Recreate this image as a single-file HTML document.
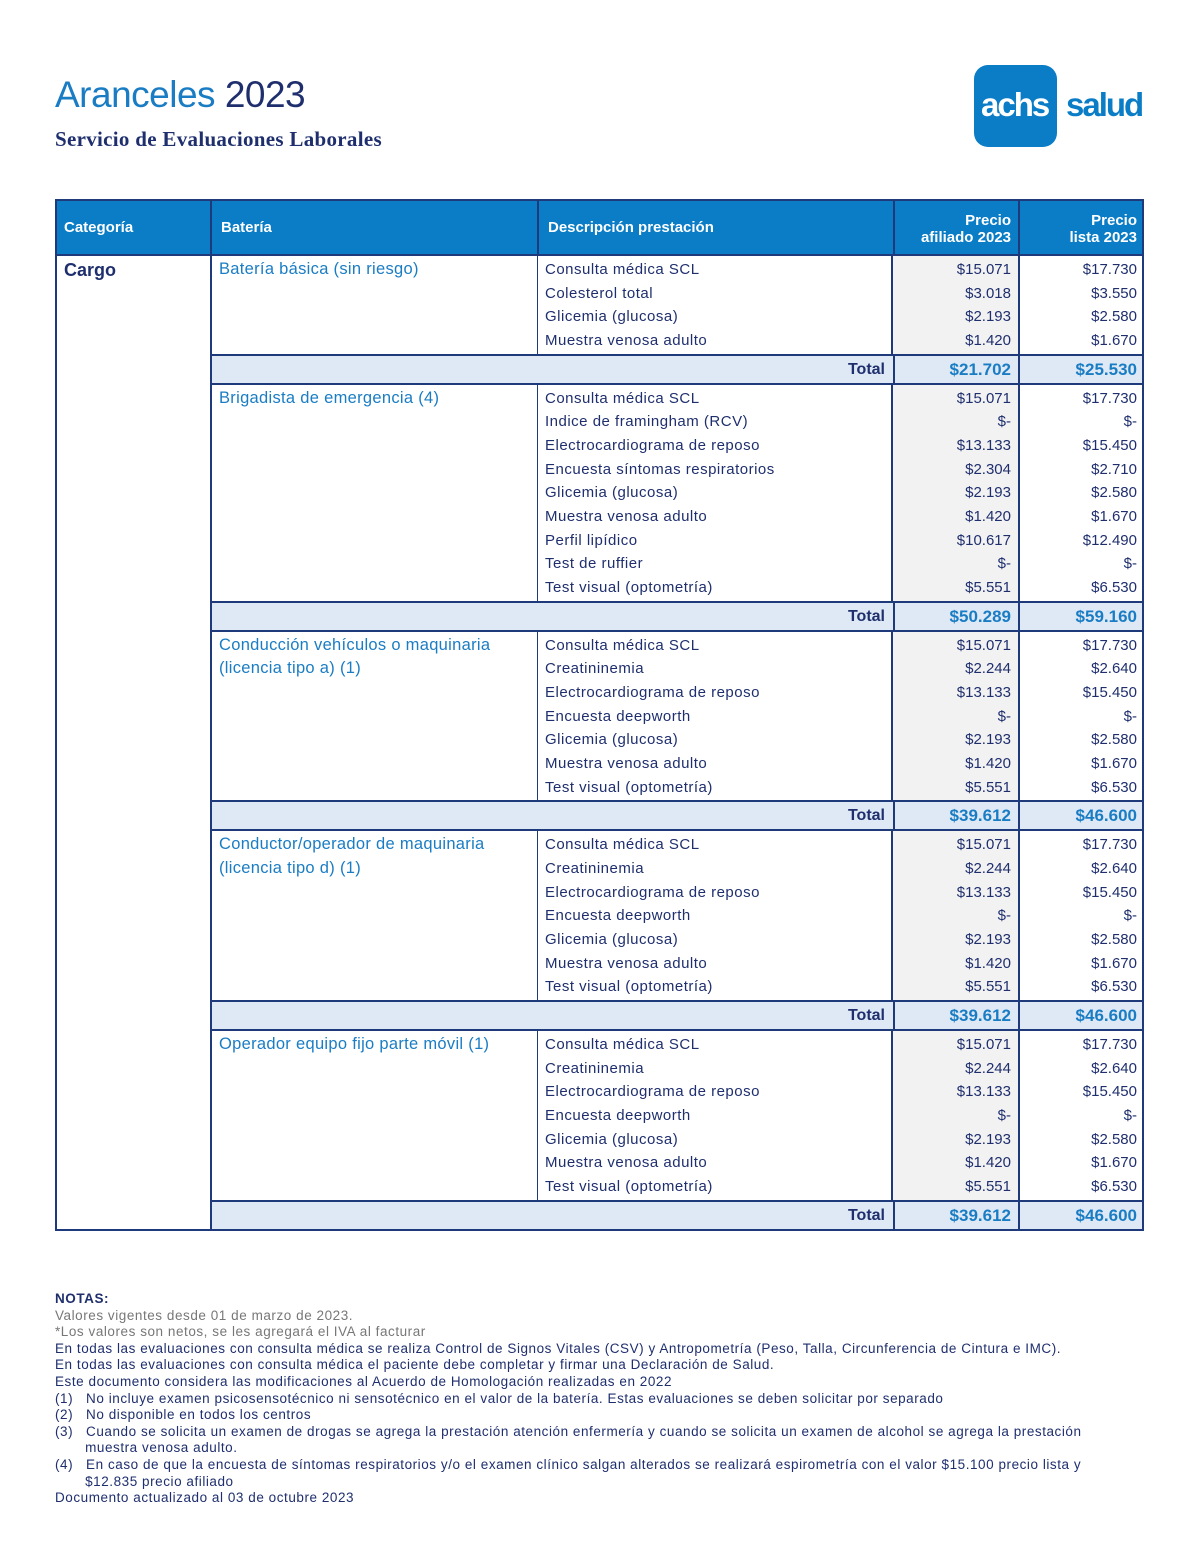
<!DOCTYPE html>
<html><head><meta charset="utf-8">
<style>
body{margin:0;background:#fff;}
#page{position:relative;width:1200px;height:1553px;overflow:hidden;font-family:"Liberation Sans",sans-serif;color:#1f2f6e;}
.abs{position:absolute;white-space:nowrap;}
</style></head><body>
<div id="page">
<div class="abs" style="left:55px;top:74px;font-size:37px;letter-spacing:-0.5px;"><span style="color:#1a7dc4">Aranceles</span> <span style="color:#1f2f6e">2023</span></div>
<div class="abs" style="left:55px;top:127px;font-family:'Liberation Serif',serif;font-size:21px;font-weight:bold;letter-spacing:0.3px;color:#1f2f6e;">Servicio de Evaluaciones Laborales</div>
<div class="abs" style="left:974px;top:65px;width:83px;height:82px;border-radius:14px;background:#0a7dc6;"></div>
<div class="abs" style="left:981px;top:86px;font-size:33px;font-weight:bold;color:#fff;letter-spacing:-2px;">achs</div>
<div class="abs" style="left:1066px;top:86px;font-size:33px;font-weight:bold;color:#0a7dc6;letter-spacing:-2px;">salud</div>
<div id="table"></div>
<div class="abs" style="left:55px;top:1291px;font-size:13.5px;line-height:16.6px;letter-spacing:0.55px;color:#1f2f6e;">
<b>NOTAS:</b><br>
<span style="color:#777">Valores vigentes desde 01 de marzo de 2023.</span><br>
<span style="color:#777">*Los valores son netos, se les agregará el IVA al facturar</span><br>
En todas las evaluaciones con consulta médica se realiza Control de Signos Vitales (CSV) y Antropometría (Peso, Talla, Circunferencia de Cintura e IMC).<br>
En todas las evaluaciones con consulta médica el paciente debe completar y firmar una Declaración de Salud.<br>
Este documento considera las modificaciones al Acuerdo de Homologación realizadas en 2022<br>
(1)&nbsp;&nbsp; No incluye examen psicosensotécnico ni sensotécnico en el valor de la batería. Estas evaluaciones se deben solicitar por separado<br>
(2)&nbsp;&nbsp; No disponible en todos los centros<br>
(3)&nbsp;&nbsp; Cuando se solicita un examen de drogas se agrega la prestación atención enfermería y cuando se solicita un examen de alcohol se agrega la prestación<br>
&nbsp;&nbsp;&nbsp;&nbsp;&nbsp;&nbsp; muestra venosa adulto.<br>
(4)&nbsp;&nbsp; En caso de que la encuesta de síntomas respiratorios y/o el examen clínico salgan alterados se realizará espirometría con el valor $15.100 precio lista y<br>
&nbsp;&nbsp;&nbsp;&nbsp;&nbsp;&nbsp; $12.835 precio afiliado<br>
Documento actualizado al 03 de octubre 2023
</div>
</div>
<script>
const batteries=["Batería básica (sin riesgo)","Brigadista de emergencia (4)","Conducción vehículos o maquinaria<br>(licencia tipo a) (1)","Conductor/operador de maquinaria<br>(licencia tipo d) (1)","Operador equipo fijo parte móvil (1)"];
const A=["Consulta médica SCL","Creatininemia","Electrocardiograma de reposo","Encuesta deepworth","Glicemia (glucosa)","Muestra venosa adulto","Test visual (optometría)"];
const descs=[["Consulta médica SCL","Colesterol total","Glicemia (glucosa)","Muestra venosa adulto"],
["Consulta médica SCL","Indice de framingham (RCV)","Electrocardiograma de reposo","Encuesta síntomas respiratorios","Glicemia (glucosa)","Muestra venosa adulto","Perfil lipídico","Test de ruffier","Test visual (optometría)"],A,A,A];
const PA=["$15.071","$2.244","$13.133","$-","$2.193","$1.420","$5.551"];
const PL=["$17.730","$2.640","$15.450","$-","$2.580","$1.670","$6.530"];
const afil=[["$15.071","$3.018","$2.193","$1.420"],["$15.071","$-","$13.133","$2.304","$2.193","$1.420","$10.617","$-","$5.551"],PA,PA,PA];
const lista=[["$17.730","$3.550","$2.580","$1.670"],["$17.730","$-","$15.450","$2.710","$2.580","$1.670","$12.490","$-","$6.530"],PL,PL,PL];
const totA=["$21.702","$50.289","$39.612","$39.612","$39.612"];
const totL=["$25.530","$59.160","$46.600","$46.600","$46.600"];
const X=[55,210,537,893,1018,1144],NAVY="#1f3a7a",BLUE="#1a7dc4",RH=23.67;
const T=document.getElementById('table');
function box(x,y,w,h,st,html,name){const d=document.createElement('div');d.className='abs';d.style.cssText=`left:${x}px;top:${y}px;width:${w}px;height:${h}px;box-sizing:border-box;`+st;if(html!==undefined)d.innerHTML=html;


T.appendChild(d);return d;}
box(55,199,1089,57,`background:#0a7dc6;border:2px solid ${NAVY};`,undefined,'header-row');
const heads=["Categoría","Batería","Descripción prestación","Precio<br>afiliado 2023","Precio<br>lista 2023"];
for(let i=0;i<5;i++){const r=i>=3;box(X[i],201,X[i+1]-X[i],53,`color:#fff;font-weight:bold;font-size:15px;line-height:17px;display:flex;align-items:${r?'flex-end':'center'};justify-content:${r?'flex-end':'flex-start'};padding:${r?'0 7px 8px 0':'0 0 0 9px'};text-align:${r?'right':'left'};${i>0?'border-left:2px solid '+NAVY+';':''}`,heads[i],'header-cell');}
let y=256;
const top0=y;
for(let s=0;s<descs.length;s++){
 const n=descs[s].length,h=n*RH+4;
 box(X[3],y,X[4]-X[3],h,'background:#f2f2f2;',undefined,'afiliado-bg');
 box(X[1],y,X[3]-X[1],h,`border-left:2px solid ${NAVY};`,undefined,'battery-section');
 box(X[2],y,X[3]-X[2],h,`border-left:1px solid ${NAVY};border-right:2px solid ${NAVY};`,undefined,'desc-col');
 box(X[4],y,X[5]-X[4],h,`border-left:2px solid ${NAVY};`,undefined,'lista-col');
 box(219,y+2,315,48,`color:${BLUE};font-size:16.5px;line-height:23.5px;letter-spacing:0.3px;white-space:nowrap;`,batteries[s],'battery-name');
 for(let i=0;i<n;i++){const ry=y+2+i*RH;
  box(545,ry,345,RH,'font-size:15px;line-height:23.67px;letter-spacing:0.5px;color:#1f2f6e;',descs[s][i],'service-name');
  box(X[3],ry,X[4]-X[3],RH,'font-size:15px;line-height:23.67px;text-align:right;padding-right:7px;color:#1f2f6e;',afil[s][i],'price-afiliado');
  box(X[4],ry,X[5]-X[4],RH,'font-size:15px;line-height:23.67px;text-align:right;padding-right:7px;color:#1f2f6e;',lista[s][i],'price-lista');}
 y+=h;
 box(X[1],y-1,X[5]-X[1],31,`background:#dfe9f6;border-top:2px solid ${NAVY};border-bottom:2px solid ${NAVY};border-left:2px solid ${NAVY};`,undefined,'total-row');
 box(X[3],y,2,29,`background:${NAVY};`,undefined,'total-div');
 box(X[4],y,2,29,`background:${NAVY};`,undefined,'total-div');
 box(X[1],y,X[3]-X[1]-8,29,'font-weight:bold;font-size:16px;line-height:29px;text-align:right;color:#1f2f6e;','Total','total-label');
 box(X[3],y,X[4]-X[3],29,`font-weight:bold;font-size:17px;line-height:29px;text-align:right;padding-right:7px;color:${BLUE};`,totA[s],'total-afiliado');
 box(X[4],y,X[5]-X[4],29,`font-weight:bold;font-size:17px;line-height:29px;text-align:right;padding-right:7px;color:${BLUE};`,totL[s],'total-lista');
 y+=30;
}
box(X[0],top0,X[5]-X[0],y-top0,`border-left:2px solid ${NAVY};border-right:2px solid ${NAVY};border-bottom:2px solid ${NAVY};`,undefined,'table-frame');
box(64,top0+4,140,24,'font-weight:bold;font-size:18px;color:#1f2f6e;','Cargo','category-cargo');
</script>
</body></html>
